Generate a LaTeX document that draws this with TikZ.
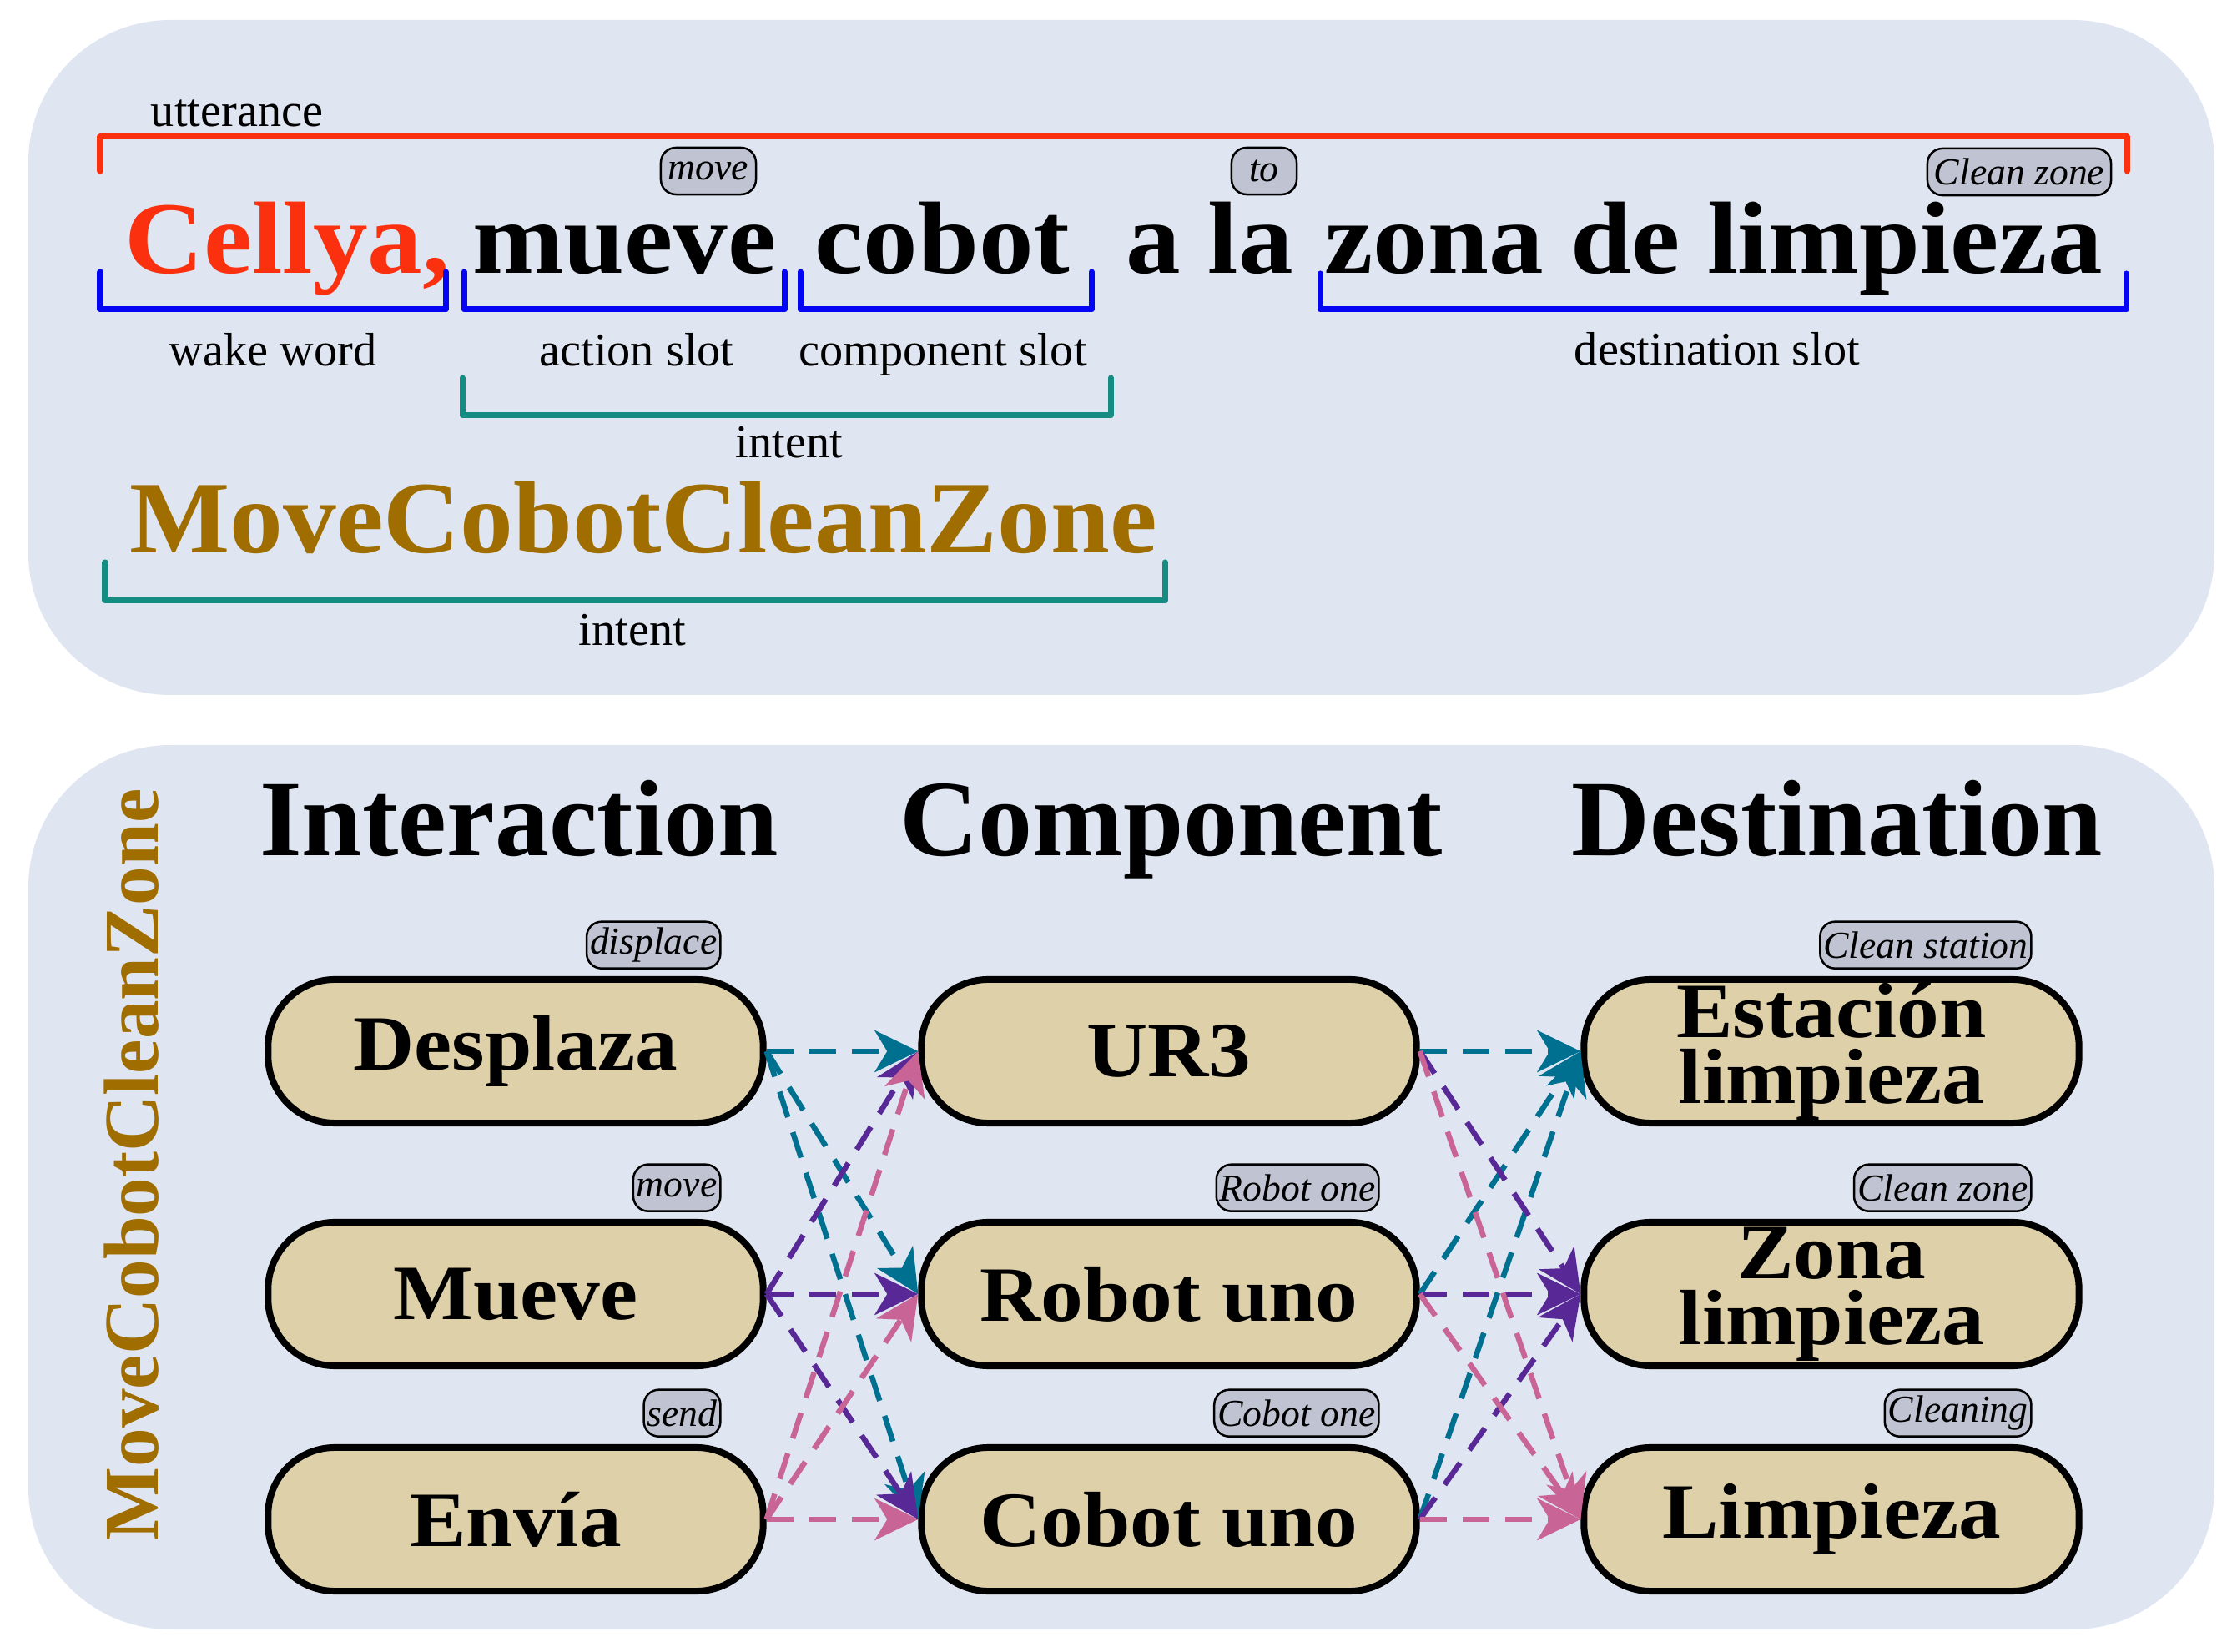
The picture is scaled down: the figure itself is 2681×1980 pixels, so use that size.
\documentclass[tikz,border=0pt]{standalone}
\usepackage{fontspec}
\setmainfont{Liberation Serif}
\usetikzlibrary{arrows.meta,calc}
\definecolor{panelbg}{RGB}{223,229,241}
\definecolor{boxtan}{RGB}{222,208,168}
\definecolor{badgegray}{RGB}{192,195,210}
\definecolor{uttred}{RGB}{250,48,14}
\definecolor{slotblue}{RGB}{5,5,245}
\definecolor{intteal}{RGB}{20,140,130}
\definecolor{golden}{RGB}{160,110,0}
\definecolor{cteal}{RGB}{0,112,145}
\definecolor{cpurple}{RGB}{88,40,150}
\definecolor{cpink}{RGB}{200,100,150}
\begin{document}
\begin{tikzpicture}[x=0.01cm,y=-0.01cm,
  panel/.style={fill=panelbg, rounded corners=1.7cm},
  word/.style={inner sep=0, font=\fontsize{35}{42}\selectfont\bfseries\addfontfeature{FakeStretch=1.065}},
  lbl/.style={inner sep=0, anchor=base, font=\fontsize{16}{19}\selectfont},
  bracket/.style={line width=0.07cm, line cap=round, line join=round},
  badge/.style={draw=black, line width=0.025cm, fill=badgegray, rounded corners=0.18cm,
    font=\fontsize{13}{14}\selectfont\itshape, minimum height=0.56cm, inner xsep=0.04cm, inner ysep=0},
  header/.style={inner sep=0, anchor=base, font=\fontsize{37}{44}\selectfont\bfseries},
  box/.style={draw=black, line width=0.08cm, fill=boxtan, rounded corners=0.8cm,
    minimum width=5.93cm, minimum height=1.72cm, align=center,
    font=\fontsize{26.7}{22.5}\selectfont\bfseries\addfontfeature{FakeStretch=1.08}},
  twoline/.style={inner ysep=-0.3cm},
  edge/.style={dashed, dash pattern=on 0.32cm off 0.19cm, line width=0.065cm,
    -{Stealth[length=0.52cm,width=0.5cm,inset=0.15cm]}}
]
\useasboundingbox (0,0) rectangle (2681,1980);
% panels
\fill[panel] (34,24) rectangle (2654,833);
\fill[panel] (34,893) rectangle (2654,1953);

% ---- top panel ----
\node[lbl] (utt) at (284,152) {utterance};
\draw[bracket, uttred] (120,205) -- (120,164) -- (2549,164) -- (2549,205);

\node[word, text=uttred, anchor=base west] (w1) at (149,328) {Cellya,};
\node[word, anchor=base west] (w2) at (566,328) {mueve};
\node[word, anchor=base west] (w3) at (976,328) {cobot};
\node[word, anchor=base west] (w4) at (1349,328) {a la};
\node[word, anchor=base west] (w5) at (1587,328) {zona de limpieza};

\node[badge, minimum width=1.14cm] (bmove) at (849,205) {move};
\node[badge, minimum width=0.78cm] (bto) at (1515,205) {to};
\node[badge, minimum width=2.2cm] (bclean) at (2420,206) {Clean zone};

\draw[bracket, slotblue] (120,326) -- (120,371) -- (534,371) -- (534,326);
\draw[bracket, slotblue] (556,326) -- (556,371) -- (940,371) -- (940,326);
\draw[bracket, slotblue] (959,326) -- (959,371) -- (1308,371) -- (1308,326);
\draw[bracket, slotblue] (1582,328) -- (1582,371) -- (2548,371) -- (2548,328);

\node[lbl] (lwake) at (327,439) {wake word};
\node[lbl] (lact) at (763,439) {action slot};
\node[lbl] (lcomp) at (1130,439) {component slot};
\node[lbl] (ldest) at (2058,438) {destination slot};

\draw[bracket, intteal] (554,453) -- (554,498) -- (1331,498) -- (1331,453);
\node[lbl] (lint1) at (946,549) {intent};

\node[word, text=golden, anchor=base west, font=\fontsize{35}{42}\selectfont\bfseries\addfontfeature{FakeStretch=1.035}] (mcc) at (155,663) {MoveCobotCleanZone};
\draw[bracket, intteal] (126,674) -- (126,720) -- (1396,720) -- (1396,674);
\node[lbl] (lint2) at (758,774) {intent};

% ---- bottom panel ----
\node[inner sep=0, anchor=base, rotate=90, text=golden,
  font=\fontsize{26.5}{30}\selectfont\bfseries] (vmcc) at (189,1396) {MoveCobotCleanZone};

\node[header] (hint) at (622,1026) {Interaction};
\node[header] (hcomp) at (1404,1026) {Component};
\node[header] (hdest) at (2202,1026) {Destination};

\node[box] (des) at (618,1260) {Desplaza};
\node[box] (mue) at (618,1551) {Mueve};
\node[box] (env) at (618,1821) {Envía};

\node[box] (ur) at (1401,1260) {UR3};
\node[box] (rob) at (1401,1551) {Robot uno};
\node[box] (cob) at (1401,1821) {Cobot uno};

\node[box, twoline] (est) at (2195,1260) {Estación\\limpieza};
\node[box, twoline] (zon) at (2195,1551) {Zona\\limpieza};
\node[box] (lim) at (2195,1821) {Limpieza};

\node[badge, anchor=south east] (bdis) at ([shift={(-54,-8)}]des.north east) {displace};
\node[badge, anchor=south east] (bmov) at ([shift={(-54,-8)}]mue.north east) {move};
\node[badge, anchor=south east] (bsen) at ([shift={(-54,-8)}]env.north east) {send};
\node[badge, anchor=south east] (brob) at ([shift={(-48,-8)}]rob.north east) {Robot one};
\node[badge, anchor=south east] (bcob) at ([shift={(-48,-8)}]cob.north east) {Cobot one};
\node[badge, anchor=south east] (bcst) at ([shift={(-60,-8)}]est.north east) {Clean station};
\node[badge, anchor=south east] (bczn) at ([shift={(-60,-8)}]zon.north east) {Clean zone};
\node[badge, anchor=south east] (bcln) at ([shift={(-60,-8)}]lim.north east) {Cleaning};

% left edges (colour by source)
\draw[edge, cteal] (des.east) -- (ur.west);
\draw[edge, cteal] (des.east) -- (rob.west);
\draw[edge, cteal] (des.east) -- (cob.west);
\draw[edge, cpurple] (mue.east) -- (ur.west);
\draw[edge, cpurple] (mue.east) -- (rob.west);
\draw[edge, cpurple] (mue.east) -- (cob.west);
\draw[edge, cpink] (env.east) -- (ur.west);
\draw[edge, cpink] (env.east) -- (rob.west);
\draw[edge, cpink] (env.east) -- (cob.west);

% right edges (colour by destination)
\draw[edge, cteal] (ur.east) -- (est.west);
\draw[edge, cteal] (rob.east) -- (est.west);
\draw[edge, cteal] (cob.east) -- (est.west);
\draw[edge, cpurple] (ur.east) -- (zon.west);
\draw[edge, cpurple] (rob.east) -- (zon.west);
\draw[edge, cpurple] (cob.east) -- (zon.west);
\draw[edge, cpink] (ur.east) -- (lim.west);
\draw[edge, cpink] (rob.east) -- (lim.west);
\draw[edge, cpink] (cob.east) -- (lim.west);
\end{tikzpicture}
\end{document}
